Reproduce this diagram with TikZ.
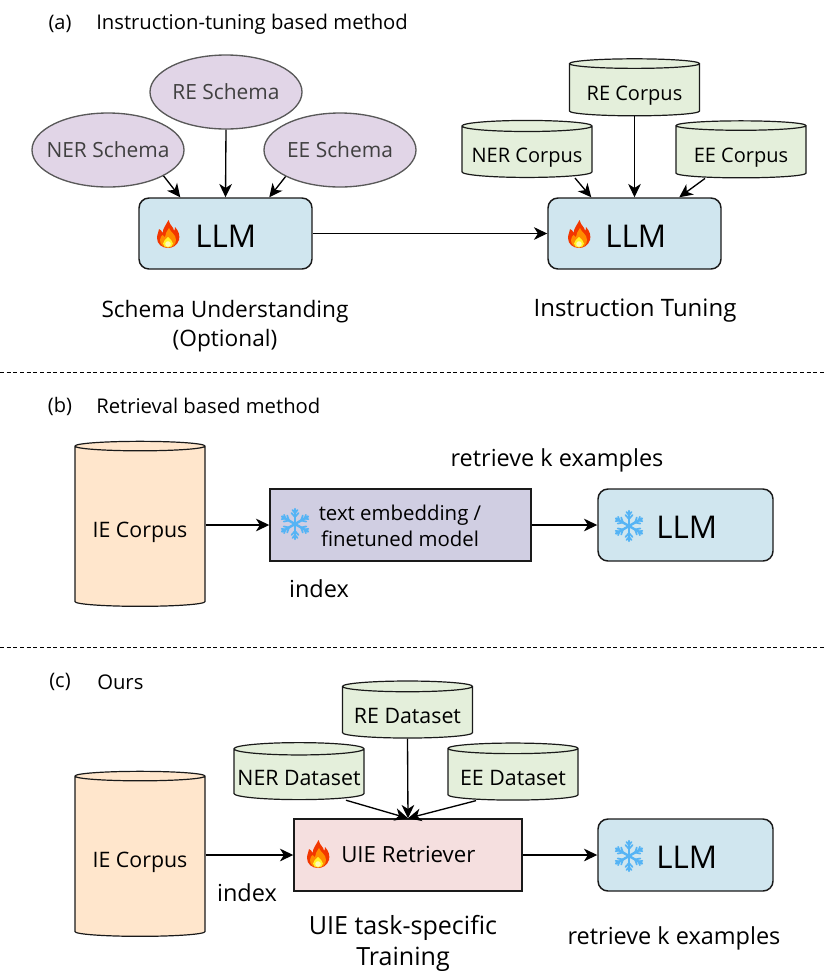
\documentclass[tikz,border=0pt]{standalone}
\usepackage{fontspec}
\setmainfont{Open Sans}
\usetikzlibrary{arrows.meta,shapes.geometric,calc}
\definecolor{bluefill}{HTML}{D0E6EF}
\definecolor{purplefill}{HTML}{E1D5E7}
\definecolor{greenfill}{HTML}{E4EFDB}
\definecolor{orangefill}{HTML}{FFE6CC}
\definecolor{lavfill}{HTML}{D0CEE2}
\definecolor{pinkfill}{HTML}{F5DFDF}
\definecolor{ink}{HTML}{1A1A1A}
\definecolor{snow}{HTML}{55B4F5}
\newcommand{\lowS}[1]{\raisebox{-8.2pt}[0pt][0pt]{#1}}
\newcommand{\lowB}[1]{\raisebox{-8.2pt}[0pt][0pt]{#1}}
\tikzset{
  x=0.75pt,y=-0.75pt,
  lbl/.style={inner sep=0pt,font=\fontsize{#1}{#1}\selectfont,text=black,align=center},
  llm/.style={draw=ink,line width=1.1pt,fill=bluefill,rounded corners=7.5pt,minimum width=173*0.75pt,minimum height=71*0.75pt,inner sep=0pt},
  schema/.style={ellipse,draw=black!65,line width=1pt,fill=purplefill,minimum width=152*0.75pt,minimum height=74*0.75pt,inner sep=-14pt,text=black!75,font=\fontsize{15.7}{18}\selectfont},
  cyl/.style={cylinder,shape border rotate=90,aspect=0.1,draw=ink,line width=0.9pt,fill=#1,inner sep=0pt},
  smallcyl/.style={cyl=greenfill,minimum width=130*0.75pt,minimum height=57*0.75pt,font=\fontsize{15}{18}\selectfont},
  datacyl/.style={smallcyl,font=\fontsize{16}{18}\selectfont},
  bigcyl/.style={cyl=orangefill,minimum width=130*0.75pt,minimum height=165*0.75pt,font=\fontsize{16}{18}\selectfont},
  box/.style={draw=ink,line width=1.1pt,fill=#1,inner sep=0pt},
  link/.style={draw=black,line width=1pt,-{Stealth[length=10pt,width=9.5pt,inset=3pt]}},
  sep/.style={draw=black,line width=0.6pt,dash pattern=on 3pt off 2pt},
  pics/flame/.style={code={
    \fill[red!55!orange!95!black] (0.5,-14) .. controls (2,-8) and (6,-7) .. (6,-3) .. controls (7,-4) and (7,-6) .. (7,-7) .. controls (11,-3) and (12,2) .. (11,6) .. controls (9,12) and (4,14) .. (0,14) .. controls (-6,14) and (-11,10) .. (-11,4) .. controls (-11,0) and (-9,-2) .. (-9,-5) .. controls (-7,-4) and (-6,-3) .. (-5.5,-1) .. controls (-5,-6) and (-2,-9) .. (0.5,-14) -- cycle;
    \fill[orange!90!yellow] (1,-6) .. controls (2,-2) and (8,0) .. (8,6) .. controls (8,11) and (4,13.5) .. (0,13.5) .. controls (-5,13.5) and (-8,10) .. (-8,6) .. controls (-8,3) and (-6,2) .. (-5.5,1) .. controls (-4,3) and (-3,3) .. (-3,3) .. controls (-3,0) and (-1,-3) .. (1,-6) -- cycle;
    \fill[yellow!85!white] (0,3) .. controls (2,5) and (5,7) .. (5,9.5) .. controls (5,12) and (2.5,13.5) .. (0,13.5) .. controls (-2.5,13.5) and (-5,12) .. (-5,9.5) .. controls (-5,7) and (-2,5) .. (0,3) -- cycle;
    \fill[white!70!yellow] (0,10) circle[radius=2.8];
  }},
  pics/flake/.style={code={
    \foreach \a in {30,90,150,210,270,330}{
      \begin{scope}[rotate=\a]
        \draw[snow,line width=1.8pt,line cap=round] (0,0) -- (15,0);
        \draw[snow,line width=1.3pt,line cap=round] (7,0) -- (11,3.5) (7,0) -- (11,-3.5) (11,0) -- (14,2.5) (11,0) -- (14,-2.5);
      \end{scope}
    }
  }},
}
\begin{document}
\begin{tikzpicture}
\useasboundingbox (0,0) rectangle (831,979);

% ---- (a)
\node[lbl=15] (ta1) at (60,24) {(a)};
\node[lbl=15.2,anchor=west] (ta2) at (96,24) {Instruction-tuning based method};
\node[schema] (ner) at (108,150) {NER Schema};
\node[schema] (re) at (226,92) {RE Schema};
\node[schema] (ee) at (340,150) {EE Schema};
\node[llm] (llma) at (225.5,233.5) {};
\node[lbl=23.5,anchor=west] (llmat) at (195,236) {LLM};
\pic at (168,234) {flame};
\node[llm] (llmb) at (634.5,233.5) {};
\node[lbl=23.5,anchor=west] (llmbt) at (605,236) {LLM};
\pic at (579,234) {flame};
\node[smallcyl] (nerc) at (527,152) {\lowS{NER Corpus}};
\node[smallcyl] (rec) at (634.5,90) {\lowS{RE Corpus}};
\node[smallcyl] (eec) at (741,152) {\lowS{EE Corpus}};
\coordinate (a1) at ($(llma.north west)+(42,0)$);
\coordinate (a3) at ($(llma.north west)+(131,0)$);
\coordinate (b1) at ($(llmb.north west)+(44,0)$);
\coordinate (b3) at ($(llmb.north west)+(132,0)$);
\draw[link] (ner.-25) -- (a1);
\draw[link] (re.south) -- (llma.north);
\draw[link] (ee.206) -- (a3);
\draw[link] (llma.east) -- (llmb.west);
\coordinate (c1) at ($(nerc.south)+(48,0)$);
\coordinate (c3) at ($(eec.south)+(-36,0)$);
\draw[link] (c1) -- (b1);
\draw[link] (rec.south) -- (llmb.north);
\draw[link] (c3) -- (b3);
\node[lbl=17] (ca1) at (225,326) {Schema Understanding\\[5pt](Optional)};
\node[lbl=18] (ca2) at (635,311) {Instruction Tuning};

\coordinate (s1l) at (0,372); \coordinate (s1r) at (825,372);
\draw[sep] (s1l) -- (s1r);

% ---- (b)
\node[lbl=15] (tb1) at (60,406) {(b)};
\node[lbl=15.2,anchor=west] (tb2) at (96,406) {Retrieval based method};
\node[bigcyl] (ie1) at (140,526.5) {\lowB{IE Corpus}};
\node[box=lavfill,minimum width=261*0.75pt,minimum height=72*0.75pt] (emb) at (400.5,525) {};
\node[lbl=15.3] (embt) at (400,526) {text embedding /\\[3.5pt]finetuned model};
\pic at (295,524) {flake};
\node[llm,minimum width=175*0.75pt,minimum height=72*0.75pt] (llmc) at (685.5,525) {};
\node[lbl=23.5,anchor=west] (llmct) at (656,527) {LLM};
\pic at (629,526) {flake};
\draw[link] (ie1.east |- emb.west) -- (emb.west);
\draw[link] (emb.east) -- (llmc.west);
\node[lbl=17.6] (rk1) at (557,460) {retrieve k examples};
\node[lbl=17.6] (ix1) at (319,589) {index};

\coordinate (s2l) at (0,647); \coordinate (s2r) at (825,647);
\draw[sep] (s2l) -- (s2r);

% ---- (c)
\node[lbl=15] (tc1) at (60,682) {(c)};
\node[lbl=15.2,anchor=west] (tc2) at (97,682) {Ours};
\node[bigcyl] (ie2) at (140,856.5) {\lowB{IE Corpus}};
\node[box=pinkfill,minimum width=228*0.75pt,minimum height=72*0.75pt] (uie) at (408,855) {};
\node[lbl=16.7,anchor=west] (uiet) at (341,854) {UIE Retriever};
\pic at (318,854) {flame};
\node[llm,minimum width=175*0.75pt,minimum height=72*0.75pt] (llmd) at (685.5,855) {};
\node[lbl=23.5,anchor=west] (llmdt) at (656,857) {LLM};
\pic at (629,856) {flake};
\node[datacyl] (nerd) at (299,774.5) {\lowS{NER Dataset}};
\node[datacyl] (red) at (407.5,712.5) {\lowS{RE Dataset}};
\node[datacyl] (eed) at (513,774.5) {\lowS{EE Dataset}};
\coordinate (d1) at ($(nerd.south)+(47,0)$);
\coordinate (d3) at ($(eed.south)+(-37,0)$);
\draw[link] (d1) -- (uie.north);
\draw[link] (red.south) -- (uie.north);
\draw[link] (d3) -- (uie.north);
\draw[link] (ie2.east |- uie.west) -- (uie.west);
\draw[link] (uie.east) -- (llmd.west);
\node[lbl=17.6] (ix2) at (247,893) {index};
\node[lbl=18.8] (ut) at (403,943) {UIE task-specific\\[4.5pt]Training};
\node[lbl=17.6] (rk2) at (674,938) {retrieve k examples};
\end{tikzpicture}
\end{document}
